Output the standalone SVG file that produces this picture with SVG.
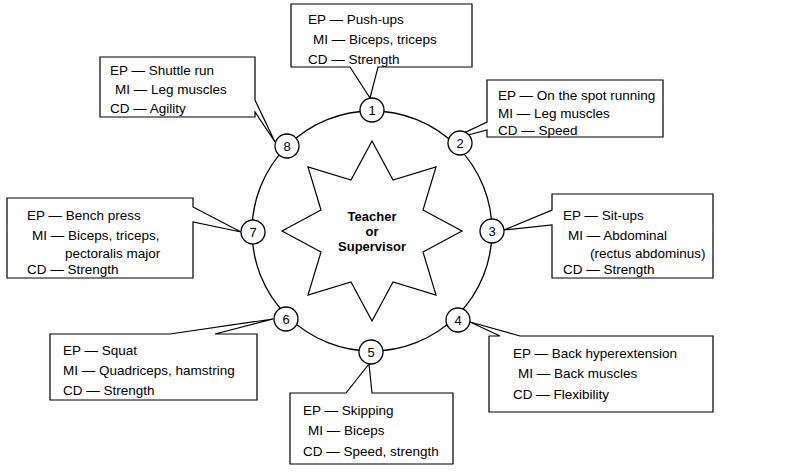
<svg xmlns="http://www.w3.org/2000/svg" width="802" height="472" viewBox="0 0 802 472">
<style>
.b{fill:#fff;stroke:#000;stroke-width:1.2}
.n{fill:#fff;stroke:#000;stroke-width:1.3}
text{font-family:"Liberation Sans",Arial,sans-serif;font-size:13.5px;fill:#000}
.c{text-anchor:middle;font-size:13px}
.s{font-weight:bold;text-anchor:middle;font-size:13px}
</style>
<rect width="802" height="472" fill="#fff"/>
<g id="connectors">
<circle cx="372" cy="231" r="120" fill="none" stroke="#000" stroke-width="1.3"/>
</g>
<g id="center">
<polygon class="b" points="372,141 393,180 436,167 423,210 462,231 423,252 436,295 393,282 372,321 351,282 308,295 321,252 282,231 321,210 308,167 351,180"/>
<text class="s" x="372" y="221">Teacher</text>
<text class="s" x="372" y="236">or</text>
<text class="s" x="372" y="251">Supervisor</text>
</g>
<g id="box1"><path class="b" d="M291,4H472V67H378L370,98L350,67H291Z"/>
<text x="308" y="24">EP — Push-ups</text><text x="313" y="44">MI — Biceps, triceps</text><text x="308" y="64">CD — Strength</text></g>
<g id="box2"><path class="b" d="M487,80H663V137H487V130L449,140L487,122Z"/>
<text x="498" y="100">EP — On the spot running</text><text x="498" y="118">MI — Leg muscles</text><text x="498" y="135">CD — Speed</text></g>
<g id="box8"><path class="b" d="M100,57H255V100L275,142L255,112V117H100Z"/>
<text x="110" y="75">EP — Shuttle run</text><text x="115" y="94">MI — Leg muscles</text><text x="110" y="113">CD — Agility</text></g>
<g id="box7"><path class="b" d="M7,198H193V207L241,232L193,222V278H7Z"/>
<text x="27" y="220">EP — Bench press</text><text x="32" y="240">MI — Biceps, triceps,</text><text x="65" y="258">pectoralis major</text><text x="27" y="274">CD — Strength</text></g>
<g id="box3"><path class="b" d="M552,194H713V278H552V225L504,230L552,210Z"/>
<text x="563" y="220">EP — Sit-ups</text><text x="568" y="240">MI — Abdominal</text><text x="590" y="258">(rectus abdominus)</text><text x="563" y="274">CD — Strength</text></g>
<g id="box6"><path class="b" d="M50,334H170L273,319L215,334H257V400H50Z"/>
<text x="63" y="355">EP — Squat</text><text x="63" y="375">MI — Quadriceps, hamstring</text><text x="63" y="395">CD — Strength</text></g>
<g id="box4"><path class="b" d="M489,336H500L470,322L520,336H713V412H489Z"/>
<text x="513" y="358">EP — Back hyperextension</text><text x="518" y="378">MI — Back muscles</text><text x="513" y="399">CD — Flexibility</text></g>
<g id="box5"><path class="b" d="M290,393H346L369,364L372,393H453V464H290Z"/>
<text x="303" y="415">EP — Skipping</text><text x="308" y="435">MI — Biceps</text><text x="303" y="456">CD — Speed, strength</text></g>
<g id="n1"><circle class="n" cx="372" cy="110" r="12"/><text class="c" x="372" y="115">1</text></g>
<g id="n2"><circle class="n" cx="460" cy="143" r="12"/><text class="c" x="460" y="148">2</text></g>
<g id="n3"><circle class="n" cx="492" cy="231" r="12"/><text class="c" x="492" y="236">3</text></g>
<g id="n4"><circle class="n" cx="458" cy="320" r="12"/><text class="c" x="458" y="325">4</text></g>
<g id="n5"><circle class="n" cx="371" cy="352" r="12"/><text class="c" x="371" y="357">5</text></g>
<g id="n6"><circle class="n" cx="286" cy="319" r="12"/><text class="c" x="286" y="324">6</text></g>
<g id="n7"><circle class="n" cx="253" cy="232" r="12"/><text class="c" x="253" y="237">7</text></g>
<g id="n8"><circle class="n" cx="287" cy="146" r="12"/><text class="c" x="287" y="151">8</text></g>
</svg>
